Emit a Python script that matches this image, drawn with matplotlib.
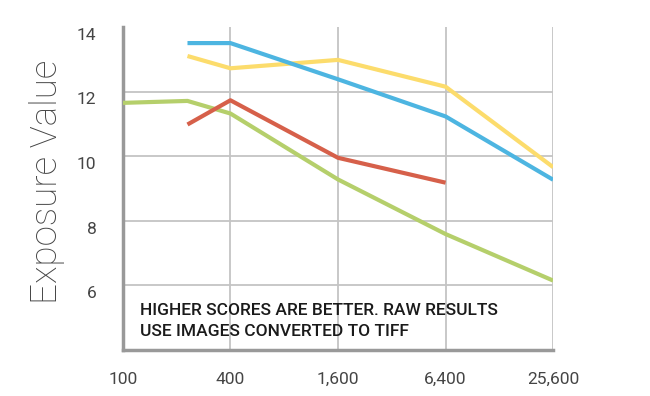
import matplotlib
matplotlib.use("Agg")
import matplotlib.pyplot as plt
from matplotlib.transforms import ScaledTranslation

plt.rcParams["font.family"] = ["Roboto", "DejaVu Sans"]

iso_ticks = [100, 400, 1600, 6400, 25600]
iso_labels = ["100", "400", "1,600", "6,400", "25,600"]

blue_x = [230, 400, 1600, 6400, 25600]
blue_y = [13.5, 13.5, 12.38, 11.23, 9.27]

yellow_x = [230, 400, 1600, 6400, 25600]
yellow_y = [13.1, 12.72, 12.98, 12.15, 9.66]

red_x = [230, 400, 1600, 6400]
red_y = [10.98, 11.73, 9.95, 9.18]

green_x = [100, 230, 400, 1600, 6400, 25600]
green_y = [11.65, 11.71, 11.32, 9.28, 7.59, 6.15]

fig = plt.figure(figsize=(6.5, 3.96), dpi=100)
ax = fig.add_axes([0.189, 0.116, 0.662, 0.816])

lw = 3
ax.plot(green_x, green_y, color="#b5cf6b", linewidth=lw, solid_capstyle="butt", zorder=3)
ax.plot(red_x, red_y, color="#d6604a", linewidth=lw, solid_capstyle="butt", zorder=3)
ax.plot(yellow_x, yellow_y, color="#fcdc6c", linewidth=lw, solid_capstyle="butt", zorder=3)
ax.plot(blue_x, blue_y, color="#4db5e1", linewidth=lw, solid_capstyle="butt", zorder=3)

ax.set_xscale("log", base=4)
ax.set_xlim(100, 25600)
ax.set_ylim(4, 14)
ax.set_xticks(iso_ticks)
ax.set_xticklabels(iso_labels)
ax.minorticks_off()
ax.set_yticks([6, 8, 10, 12, 14])

# grid lines drawn by hand so 100 and 14 get none
for x in iso_ticks[1:]:
    ax.axvline(x, color="#c4c4c4", linewidth=1.3, zorder=1)
for y in [6, 8, 10, 12]:
    ax.axhline(y, color="#c4c4c4", linewidth=1.3, zorder=1)

for s in ["top", "right"]:
    ax.spines[s].set_visible(False)
for s in ["left", "bottom"]:
    ax.spines[s].set_color("#999999")
    ax.spines[s].set_linewidth(2.5)

ax.tick_params(axis="both", length=0, labelsize=12.5, labelcolor="#454545")
ax.tick_params(axis="x", pad=16)
ax.tick_params(axis="y", pad=19)
for lab in ax.get_yticklabels():
    lab.set_transform(lab.get_transform() + ScaledTranslation(0, -5 / 72, fig.dpi_scale_trans))

ax.set_ylabel("Exposure Value", fontsize=26.5, color="#454545", fontweight="light")
ax.yaxis.set_label_coords(-0.135, 0.52)

ax.text(0.04, 0.110, "HIGHER SCORES ARE BETTER. RAW RESULTS", transform=ax.transAxes,
        fontsize=12.5, fontweight="medium", color="#1a1a1a", va="baseline")
ax.text(0.04, 0.043, "USE IMAGES CONVERTED TO TIFF", transform=ax.transAxes,
        fontsize=12.5, fontweight="medium", color="#1a1a1a", va="baseline")

fig.savefig("out.png", dpi=100)
